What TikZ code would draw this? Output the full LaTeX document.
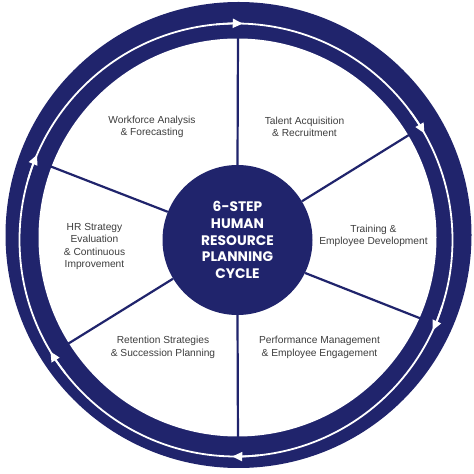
\documentclass[tikz,border=0pt]{standalone}
\usepackage{fontspec}
\setmainfont{Liberation Sans}
\newfontfamily\hubfont{Poppins}
\usetikzlibrary{arrows.meta}
\definecolor{navy}{RGB}{32,36,108}
\definecolor{labelgray}{RGB}{62,62,62}
\begin{document}
\begin{tikzpicture}[x=1pt,y=1pt,
  lbl/.style={align=center, text=labelgray, font=\fontsize{10.2}{12.5}\selectfont, inner sep=0pt},
  spoke/.style={draw=navy, line width=2.2pt},
  cyc/.style={draw=white, line width=1.8pt},
  cycarrow/.style={cyc, -{Triangle[length=10pt,width=9pt]}},
  hubtext/.style={align=center, text=white, font=\hubfont\bfseries\fontsize{13.8}{16.6}\selectfont, inner sep=0pt}]
\useasboundingbox (0,0) rectangle (474,474);
\fill[white] (0,0) rectangle (474,474);
\coordinate (oc) at (238.5,239);
\coordinate (ic) at (237.5,236.5);
\coordinate (wc) at (236,234);
% ring
\fill[navy] (oc) circle[radius=233];
\fill[white] (ic) circle[radius=199];
% hub placeholder
\node[circle, minimum size=150pt, inner sep=0pt] (hub) at (237.5,234) {};
% spoke ends
\coordinate (o1) at (238,439);
\coordinate (o2) at (412.3,341.1);
\coordinate (o3) at (427,153);
\coordinate (o4) at (238,29);
\coordinate (o5) at (62.7,126.9);
\coordinate (o6) at (46.7,309.1);
\draw[spoke] (hub.north) -- (o1);
\draw[spoke] (hub.31.5) -- (o2);
\draw[spoke] (hub.-26) -- (o3);
\draw[spoke] (hub.south) -- (o4);
\draw[spoke] (hub.211.5) -- (o5);
\draw[spoke] (hub.158.5) -- (o6);
% cycle line
\draw[cyc] (wc) circle[radius=216.5];
\foreach \a in {88.2, 29.5, -24.7, -91, -149, 156.8}{
  \draw[cycarrow] ([shift={({\a+7}:216.5)}]wc) arc[start angle={\a+7}, end angle=\a, radius=216.5];
}
% hub
\fill[navy] (hub.center) circle[radius=75];
\node[hubtext] (title) at (hub.center) {6-STEP\\HUMAN\\RESOURCE\\PLANNING\\CYCLE};
% labels
\node[lbl] (s1) at (152,347) {Workforce Analysis\\\& Forecasting};
\node[lbl] (s2) at (304.5,347) {Talent Acquisition\\\& Recruitment};
\node[lbl] (s3) at (373.5,238) {Training \&\\Employee Development};
\node[lbl] (s4) at (319.5,126.5) {Performance Management\\\& Employee Engagement};
\node[lbl] (s5) at (163,126.5) {Retention Strategies\\\& Succession Planning};
\node[lbl] (s6) at (94.5,227.5) {HR Strategy\\Evaluation\\\& Continuous\\Improvement};
\end{tikzpicture}
\end{document}
